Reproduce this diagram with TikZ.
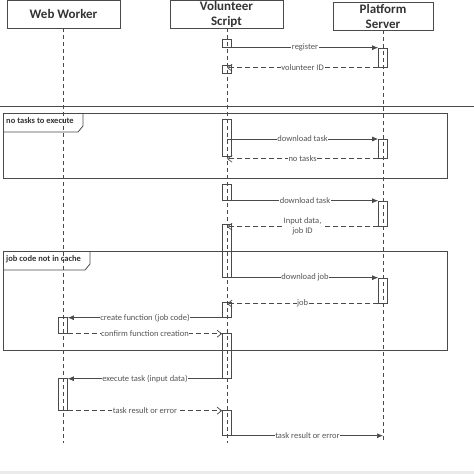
\documentclass[tikz,border=0pt]{standalone}
\usepackage{fontspec}
\setmainfont{Carlito}
\usetikzlibrary{arrows.meta}
\definecolor{linegray}{HTML}{4A4A4A}
\definecolor{textgray}{HTML}{555555}
\tikzset{
  header/.style={draw=linegray, line width=0.8pt, minimum height=28pt, inner sep=0pt,
    align=center, font=\fontsize{13}{15}\selectfont\bfseries, text=black!80},
  lifeline/.style={draw=linegray, line width=0.7pt, dash pattern=on 4pt off 3pt},
  actbox/.style={draw=linegray, line width=0.7pt, minimum width=9pt, inner sep=0pt, anchor=north},
  msg/.style={draw=linegray, line width=0.7pt, -{Latex[length=6pt,width=5pt]}},
  ret/.style={draw=linegray, line width=0.7pt, dash pattern=on 5pt off 3pt,
    -{Straight Barb[length=4.5pt,width=7pt]}},
  lbl/.style={midway, fill=white, inner sep=0.5pt, text=textgray, align=center,
    font=\fontsize{8.5}{10}\selectfont},
  framebox/.style={draw=linegray, line width=0.8pt},
  framelbl/.style={anchor=north west, inner sep=0pt, text=black!80,
    font=\fontsize{8.5}{10}\selectfont\bfseries}
}
\begin{document}
\begin{tikzpicture}[x=1pt,y=-1pt]
    % Cadre de la page
    \useasboundingbox (0,0) rectangle (474,474);
    \fill[black!8] (0,471) rectangle (474,474);
    % Participants
    \node[header, minimum width=113pt] (ww) at (63.5,14) {Web Worker};
    \node[header, minimum width=113pt] (vs) at (226.5,14) {Volunteer\\Script};
    \node[header, minimum width=100pt] (ps) at (383,16) {Platform\\Server};
    % Lignes de vie
    \coordinate (wwend) at (63,443);
    \coordinate (vsend) at (227,443);
    \coordinate (psend) at (383,443);
    \draw[lifeline] (ww.south -| wwend) -- (wwend);
    \draw[lifeline] (vs.south -| vsend) -- (vsend);
    \draw[lifeline] (ps.south) -- (psend);
    % Separateur
    \draw[draw=linegray, line width=0.9pt] (0,106) -- (474,106);
    % Cadre 1 : no tasks to execute
    \draw[framebox] (3,113) rectangle (447,178);
    \draw[framebox] (3,132) -- (78,132) -- (83,126) -- (83,113);
    \node[framelbl] (f1) at (6,117) {no tasks to execute};
    % Cadre 2 : job code not in cache
    \draw[framebox] (3,251) rectangle (447,350);
    \draw[framebox] (3,270) -- (85,270) -- (90,264) -- (90,251);
    \node[framelbl] (f2) at (6,255) {job code not in cache};
    % Activations Volunteer Script
    \node[actbox, minimum height=8pt] (v1) at (227,39) {};
    \node[actbox, minimum height=8pt] (v2) at (227,65) {};
    \node[actbox, minimum height=37pt] (v3) at (227,119) {};
    \node[actbox, minimum height=16pt] (v4) at (227,184) {};
    \node[actbox, minimum height=53pt] (v5) at (227,224) {};
    \node[actbox, minimum height=15pt] (v6) at (227,302) {};
    \node[actbox, minimum height=45pt] (v7) at (227,333) {};
    \node[actbox, minimum height=25pt] (v8) at (227,410) {};
    % Activations Platform Server
    \node[actbox, minimum height=19pt] (p1) at (383,48) {};
    \node[actbox, minimum height=19pt] (p2) at (383,139) {};
    \node[actbox, minimum height=25pt] (p3) at (383,201) {};
    \node[actbox, minimum height=25pt] (p4) at (383,278) {};
    % Activations Web Worker
    \node[actbox, minimum height=16pt] (w1) at (63,317) {};
    \node[actbox, minimum height=32pt] (w2) at (63,378) {};
    % Messages
    \draw[msg] (v1.south east) -- (v1.south east -| p1.west) node[lbl] {register};
    \draw[ret] (p1.south west) -- (p1.south west -| v2) node[lbl] {volunteer ID};
    \draw[msg] (p2.north west -| v3) -- (p2.north west) node[lbl] {download task};
    \draw[ret] (p2.south west) -- (p2.south west -| v3) node[lbl] {no tasks};
    \draw[msg] (v4.south east) -- (v4.south east -| p3.west) node[lbl] {download task};
    \draw[ret] (p3.south west) -- (p3.south west -| v5) node[lbl] {Input data,\\job ID};
    \draw[msg] (v5.south east) -- (v5.south east -| p4.west) node[lbl] {download job};
    \draw[ret] (p4.south west) -- (p4.south west -| v6) node[lbl] {job};
    \draw[msg] (v6.south west) -- (v6.south west -| w1.east) node[lbl] {create function (job code)};
    \draw[ret] (w1.south east) -- (w1.south east -| v7.west) node[lbl] {confirm function creation};
    \draw[msg] (v7.south west) -- (v7.south west -| w2.east) node[lbl] {execute task (input data)};
    \draw[ret] (w2.south east) -- (w2.south east -| v8.west) node[lbl] {task result or error};
    \coordinate (psres) at (383,436);
    \draw[msg] (v8.south east) -- (v8.south east -| psres) node[lbl] {task result or error};
\end{tikzpicture}
\end{document}
